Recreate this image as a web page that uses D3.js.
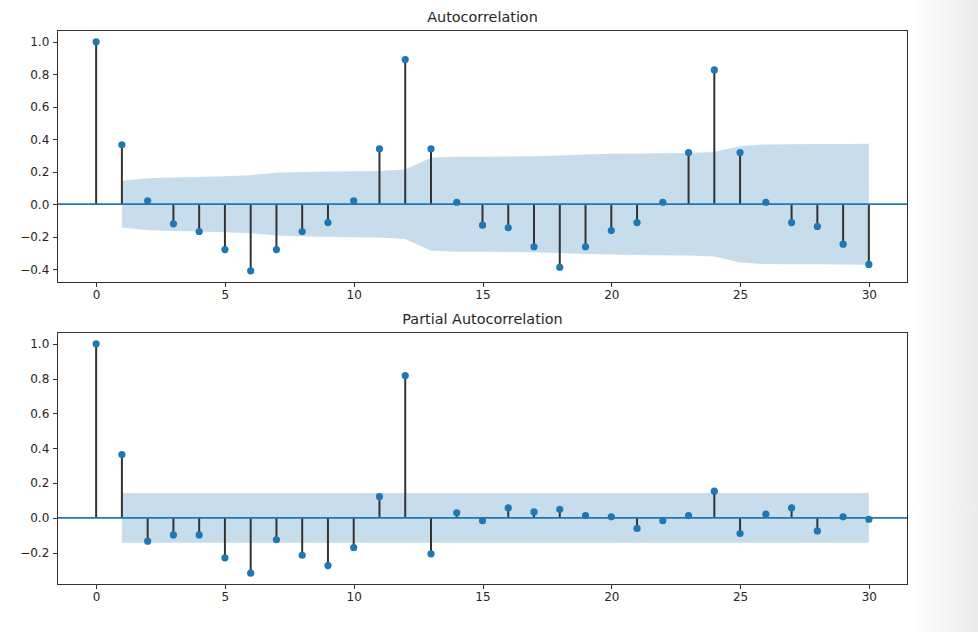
<!DOCTYPE html>
<html>
    <head>
        <meta charset="utf-8">
        <style>
            body { margin: 0; background: #fff; }
            .axis path, .axis line { stroke: #333; shape-rendering: crispEdges; }
            .axis text { font-family: "DejaVu Sans", sans-serif; font-size: 12px; fill: #262626; }
            .title { font-family: "DejaVu Sans", sans-serif; font-size: 14.4px; fill: #262626; }
        </style>
    </head>
    <body>
        <div id="chart"></div>
        <script src="https://d3js.org/d3.v7.min.js"></script>
        <script>
            // ACF values, lags 0..30
            const acfValues = [1.0, 0.366, 0.021, -0.121, -0.168, -0.279, -0.41, -0.279, -0.168, -0.113,
                0.021, 0.341, 0.891, 0.341, 0.012, -0.129, -0.145, -0.262, -0.388, -0.262,
                -0.162, -0.113, 0.012, 0.318, 0.827, 0.318, 0.012, -0.113, -0.137, -0.246, -0.371];
            // half-width of ACF confidence band, lags 1..30
            const acfConf = [0.144, 0.160, 0.165, 0.168, 0.172, 0.179, 0.193, 0.199, 0.201, 0.203,
                0.205, 0.214, 0.286, 0.292, 0.292, 0.294, 0.296, 0.300, 0.306, 0.310,
                0.312, 0.314, 0.316, 0.322, 0.359, 0.368, 0.369, 0.370, 0.371, 0.372];
            // PACF values, lags 0..30
            const pacfValues = [1.0, 0.364, -0.134, -0.098, -0.098, -0.23, -0.318, -0.126, -0.215, -0.274,
                -0.171, 0.122, 0.818, -0.207, 0.029, -0.016, 0.057, 0.034, 0.049, 0.013,
                0.006, -0.061, -0.016, 0.013, 0.153, -0.09, 0.021, 0.057, -0.075, 0.006, -0.008];
            // half-width of PACF confidence band, lags 1..30
            const pacfConf = [0.143, 0.143, 0.143, 0.143, 0.143, 0.143, 0.143, 0.143, 0.143, 0.143,
                0.143, 0.143, 0.143, 0.143, 0.143, 0.143, 0.143, 0.143, 0.143, 0.143,
                0.143, 0.143, 0.143, 0.143, 0.143, 0.143, 0.143, 0.143, 0.143, 0.143];
            const xTicks = [0, 5, 10, 15, 20, 25, 30];
            const acfYTicks = [-0.4, -0.2, 0.0, 0.2, 0.4, 0.6, 0.8, 1.0];
            const pacfYTicks = [-0.2, 0.0, 0.2, 0.4, 0.6, 0.8, 1.0];

            const width = 978, height = 632;
            const blue = '#1f77b4';

            const svg = d3.select('#chart')
                .append('svg')
                .attr('width', width)
                .attr('height', height);

            // notebook shadow on the right edge
            const grad = svg.append('defs').append('linearGradient')
                .attr('id', 'shade');
            grad.append('stop').attr('offset', '0%').attr('stop-color', '#fff');
            grad.append('stop').attr('offset', '100%').attr('stop-color', '#ebebeb');
            svg.append('rect')
                .attr('x', 912).attr('y', 0)
                .attr('width', 66).attr('height', height)
                .attr('fill', 'url(#shade)');

            const x = d3.scaleLinear()
                .domain([-1.5, 31.5])
                .range([57.5, 907.5]);

            function panel(values, conf, yDomain, top, bottom, yTicks, title) {
                const y = d3.scaleLinear()
                    .domain(yDomain)
                    .range([bottom, top]);

                const g = svg.append('g');

                // confidence band
                const band = conf.map((c, i) => ({ lag: i + 1, c }));
                g.append('path')
                    .datum(band)
                    .attr('fill', blue)
                    .attr('fill-opacity', 0.25)
                    .attr('d', d3.area()
                        .x(d => x(d.lag))
                        .y0(d => y(-d.c))
                        .y1(d => y(d.c)));

                const pts = values.map((v, i) => ({ lag: i, v }));

                // stems
                g.selectAll('.stem')
                    .data(pts)
                    .enter()
                    .append('line')
                    .attr('x1', d => x(d.lag))
                    .attr('x2', d => x(d.lag))
                    .attr('y1', y(0))
                    .attr('y2', d => y(d.v))
                    .attr('stroke', '#333')
                    .attr('stroke-width', 2);

                // zero line
                g.append('line')
                    .attr('x1', x.range()[0])
                    .attr('x2', x.range()[1])
                    .attr('y1', y(0))
                    .attr('y2', y(0))
                    .attr('stroke', blue)
                    .attr('stroke-width', 1.8);

                // markers
                g.selectAll('.dot')
                    .data(pts)
                    .enter()
                    .append('circle')
                    .attr('cx', d => x(d.lag))
                    .attr('cy', d => y(d.v))
                    .attr('r', 3.6)
                    .attr('fill', blue);

                // axes
                g.append('g')
                    .attr('class', 'axis')
                    .attr('transform', `translate(0,${bottom})`)
                    .call(d3.axisBottom(x).tickValues(xTicks).tickFormat(d3.format('d'))
                        .tickSizeOuter(0).tickSize(4.2).tickPadding(4));

                g.append('g')
                    .attr('class', 'axis')
                    .attr('transform', `translate(${x.range()[0]},0)`)
                    .call(d3.axisLeft(y).tickValues(yTicks).tickFormat(d3.format('.1f'))
                        .tickSizeOuter(0).tickSize(4.2).tickPadding(4));

                g.selectAll('.axis .domain').remove();

                // frame
                g.append('rect')
                    .attr('x', x.range()[0])
                    .attr('y', top)
                    .attr('width', x.range()[1] - x.range()[0])
                    .attr('height', bottom - top)
                    .attr('fill', 'none')
                    .attr('stroke', '#333')
                    .attr('stroke-width', 1)
                    .attr('shape-rendering', 'crispEdges');

                g.append('text')
                    .attr('class', 'title')
                    .attr('x', (x.range()[0] + x.range()[1]) / 2)
                    .attr('y', top - 9)
                    .attr('text-anchor', 'middle')
                    .text(title);
            }

            panel(acfValues, acfConf, [-0.482, 1.0696], 30.5, 282.5, acfYTicks, 'Autocorrelation');
            panel(pacfValues, pacfConf, [-0.383, 1.065], 332.5, 584.5, pacfYTicks, 'Partial Autocorrelation');
        </script>
    </body>
</html>
